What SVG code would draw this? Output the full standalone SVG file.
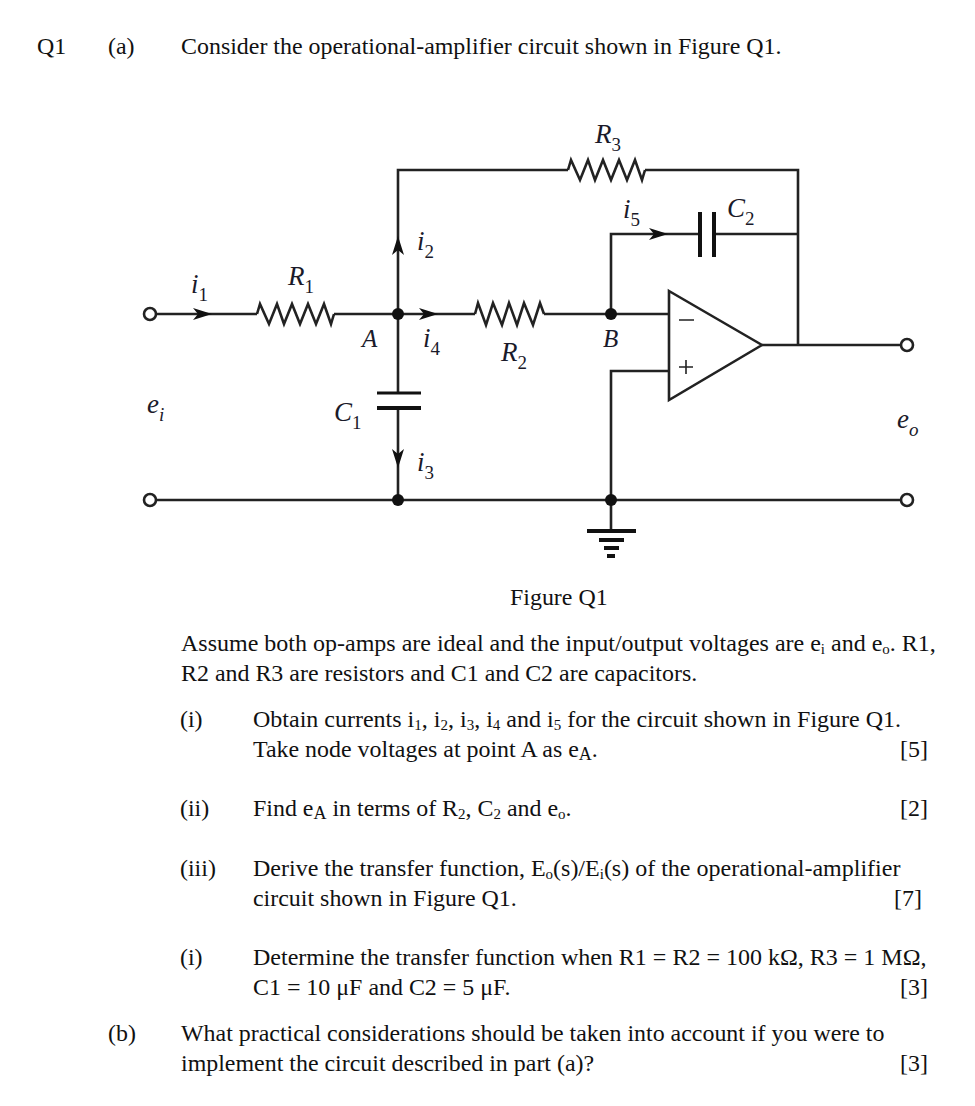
<svg xmlns="http://www.w3.org/2000/svg" xmlns:xlink="http://www.w3.org/1999/xlink" width="975" height="1106" viewBox="0 0 975 1106">
<style>
text{font-family:"Liberation Serif","Times New Roman",serif;fill:#111}
.b{font-size:23.93px}
.c{font-size:24px}
.s{font-size:15px}
.sa{font-size:18px}
.l{font-size:27px;font-style:italic;fill:#1a1a2a}
.m{font-size:25px}
.ls{font-size:19px;font-style:normal}
.li{font-size:19px}
.w{fill:none;stroke:#222;stroke-width:2.6;stroke-linejoin:miter}
.p{fill:none;stroke:#111;stroke-width:4}
.pt{fill:none;stroke:#111;stroke-width:3}
.o{fill:none;stroke:#222;stroke-width:1.6}
.g{fill:none;stroke:#111;stroke-width:4}
.t{fill:#fff;stroke:#222;stroke-width:2.6}
.d{fill:#111}
</style>
<defs>
<path id="res" class="w" d="M0 0L3 -10L12 10L20 -10L27 10L35 -10L43 10L51 -10L59 10L67 -10L74 10L77 0"/>
<path id="ah" class="d" d="M0 0L-19 -6L-14 0L-19 6Z"/>
</defs>
<rect width="975" height="1106" fill="#fff"/>
<g id="connectors">
<path class="w" d="M150 314H257M334 314H475M544 314H669"/>
<path class="w" d="M398 314V170H568M645 170H798V345"/>
<path class="w" d="M398 314V393M398 408V500"/>
<path class="w" d="M611 314V234H700M714 234H798"/>
<path class="w" d="M762 345H907"/>
<path class="w" d="M669 371H611V531"/>
<path class="w" d="M150 500H907"/>
<use xlink:href="#ah" href="#ah" transform="translate(212 314)"/>
<use xlink:href="#ah" href="#ah" transform="translate(438 314)"/>
<use xlink:href="#ah" href="#ah" transform="translate(398 236) rotate(-90)"/>
<use xlink:href="#ah" href="#ah" transform="translate(398 468) rotate(90)"/>
<use xlink:href="#ah" href="#ah" transform="translate(668 234)"/>
</g>
<g id="R1"><use xlink:href="#res" href="#res" x="257" y="314"/><text class="l" x="288" y="285">R<tspan class="ls" dy="8">1</tspan></text></g>
<g id="R2"><path class="w" d="M475 314L478 303L486 325L493 303L502 325L509 303L517 325L524 303L533 325L540 303L544 314"/><text class="l" x="501" y="361">R<tspan class="ls" dy="8">2</tspan></text></g>
<g id="R3"><use xlink:href="#res" href="#res" x="568" y="170"/><text class="l" x="595" y="143">R<tspan class="ls" dy="8">3</tspan></text></g>
<g id="C1"><path class="pt" d="M377 393H421"/><path class="p" d="M377 408H421"/><text class="l" x="334" y="421">C<tspan class="ls" dy="8">1</tspan></text></g>
<g id="C2"><path class="p" d="M700 212V257M714 212V257"/><text class="l" x="727" y="217">C<tspan class="ls" dy="8">2</tspan></text></g>
<g id="opamp"><path class="w" d="M669 291L762 345L669 400Z"/><path class="o" d="M679 320H694M679 367H693M686 360V374"/></g>
<g id="ground"><path class="g" d="M587 531H636M599 540H624M604 548H619M607 556H615"/></g>
<g id="nodeA"><circle class="d" cx="398" cy="314" r="6"/><text class="l m" x="362" y="347">A</text></g>
<g id="nodeB"><circle class="d" cx="611" cy="314" r="6"/><text class="l m" x="603" y="347">B</text></g>
<circle class="d" cx="398" cy="500" r="6"/>
<circle class="d" cx="611" cy="500" r="6"/>
<g id="t1"><circle class="t" cx="150" cy="314" r="6"/></g>
<g id="t2"><circle class="t" cx="150" cy="500" r="6"/></g>
<g id="t3"><circle class="t" cx="907" cy="345" r="6"/></g>
<g id="t4"><circle class="t" cx="907" cy="500" r="6"/></g>
<g id="labels">
<text class="l" x="191" y="293">i<tspan class="ls" dy="8">1</tspan></text>
<text class="l" x="417" y="250">i<tspan class="ls" dy="8">2</tspan></text>
<text class="l" x="417" y="471">i<tspan class="ls" dy="8">3</tspan></text>
<text class="l" x="423" y="347">i<tspan class="ls" dy="8">4</tspan></text>
<text class="l" x="623" y="218">i<tspan class="ls" dy="8">5</tspan></text>
<text class="l" x="147" y="413">e<tspan class="li" dy="8">i</tspan></text>
<text class="l" x="897" y="428">e<tspan class="li" dy="8">o</tspan></text>
</g>
<g id="body">
<text class="b" x="37" y="54">Q1</text><text class="b" x="108" y="54">(a)</text><text class="b" x="181" y="54">Consider the operational-amplifier circuit shown in Figure Q1.</text>
<text class="b" x="510" y="605">Figure Q1</text>
<text class="c" x="181" y="651">Assume both op-amps are ideal and the input/output voltages are e<tspan class="s" dy="3">i</tspan><tspan dy="-3"> and e</tspan><tspan class="s" dy="3">o</tspan><tspan dy="-3">. R1,</tspan></text>
<text class="b" x="181" y="681">R2 and R3 are resistors and C1 and C2 are capacitors.</text>
<text class="b" x="180" y="727">(i)</text>
<text class="c" x="253" y="727">Obtain currents i<tspan class="s" dy="3">1</tspan><tspan dy="-3">, i</tspan><tspan class="s" dy="3">2</tspan><tspan dy="-3">, i</tspan><tspan class="s" dy="3">3</tspan><tspan dy="-3">, i</tspan><tspan class="s" dy="3">4</tspan><tspan dy="-3"> and i</tspan><tspan class="s" dy="3">5</tspan><tspan dy="-3"> for the circuit shown in Figure Q1.</tspan></text>
<text class="b" x="253" y="757">Take node voltages at point A as e<tspan class="sa" dy="3">A</tspan><tspan dy="-3">.</tspan></text>
<text class="b" x="928" y="757" text-anchor="end">[5]</text>
<text class="b" x="180" y="816">(ii)</text>
<text class="b" x="253" y="816">Find e<tspan class="sa" dy="3">A</tspan><tspan dy="-3"> in terms of R</tspan><tspan class="s" dy="3">2</tspan><tspan dy="-3">, C</tspan><tspan class="s" dy="3">2</tspan><tspan dy="-3"> and e</tspan><tspan class="s" dy="3">o</tspan><tspan dy="-3">.</tspan></text>
<text class="b" x="928" y="816" text-anchor="end">[2]</text>
<text class="b" x="180" y="876">(iii)</text>
<text class="c" x="253" y="876">Derive the transfer function, E<tspan class="s" dy="3">o</tspan><tspan dy="-3">(s)/E</tspan><tspan class="s" dy="3">i</tspan><tspan dy="-3">(s) of the operational-amplifier</tspan></text>
<text class="b" x="253" y="906">circuit shown in Figure Q1.</text>
<text class="b" x="922" y="906" text-anchor="end">[7]</text>
<text class="b" x="180" y="965">(i)</text>
<text class="c" x="253" y="965">Determine the transfer function when R1 = R2 = 100 kΩ, R3 = 1 MΩ,</text>
<text class="b" x="253" y="995">C1 = 10 μF and C2 = 5 μF.</text>
<text class="b" x="928" y="995" text-anchor="end">[3]</text>
<text class="b" x="108" y="1041">(b)</text>
<text class="b" x="181" y="1041">What practical considerations should be taken into account if you were to</text>
<text class="b" x="181" y="1071">implement the circuit described in part (a)?</text>
<text class="b" x="928" y="1071" text-anchor="end">[3]</text>
</g>
</svg>
